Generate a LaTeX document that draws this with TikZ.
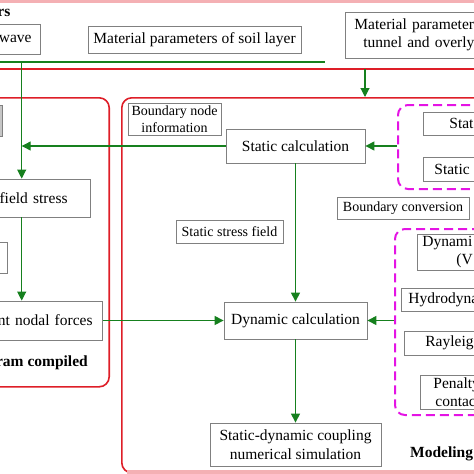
\documentclass[tikz,border=0pt]{standalone}
\usepackage{fontspec}
\setmainfont{Liberation Serif}
\usetikzlibrary{arrows.meta}
\definecolor{flowgreen}{RGB}{22,128,30}
\definecolor{framered}{RGB}{222,30,40}
\definecolor{modelpink}{RGB}{228,20,228}
\definecolor{edgegray}{RGB}{128,128,128}
\newcommand{\maintxt}{\fontsize{15.5pt}{18.5pt}\selectfont}
\newcommand{\notetxt}{\fontsize{14pt}{17pt}\selectfont}

\begin{document}
\begin{tikzpicture}[x=1pt,y=-1pt]
   \tikzstyle{box}=[draw=edgegray, line width=0.8pt, fill=white, inner ysep=1pt, font=\maintxt]
   \tikzstyle{note}=[box, font=\notetxt]
   \tikzstyle{cut}=[box, text width=150pt, align=left]
   \tikzstyle{frame}=[draw=framered, line width=1.6pt, rounded corners=10pt]
   \tikzstyle{model}=[draw=modelpink, line width=2pt, dash pattern=on 9pt off 5pt, rounded corners=10pt]
   \tikzstyle{flow}=[draw=flowgreen, line width=1.1pt, -{Triangle[length=9pt,width=9pt]}]
   \tikzstyle{title}=[font=\maintxt\bfseries, inner sep=0pt]

\useasboundingbox (0,0) rectangle (474,474);
\clip (0,0) rectangle (474,474);
\fill[framered!35] (0,0) rectangle (474,2.5);

\node[frame, anchor=north east, minimum width=150pt, minimum height=289pt] (progFrame) at (110,97) {};
\node[frame, anchor=north west, minimum width=400pt, minimum height=375pt] (simFrame) at (121,97) {};
\fill[framered!35] (127,469.5) rectangle (474,474);
\node[model, anchor=north west, minimum width=110pt, minimum height=84pt] (staticModel) at (397,104) {};
\node[model, anchor=north west, minimum width=110pt, minimum height=186pt] (dynModel) at (394,228) {};

\draw[framered, line width=1.6pt] (-5,69) -- (480,69);
\coordinate (redTap) at (365,69);
\draw[flowgreen, line width=2.8pt] (-5,62) -- (325,62);
\coordinate (busTap) at (21.7,62);

\node[title, anchor=east] (inputLabel) at (10.5,12.5) {rs};
\node[title, anchor=east] (progLabel) at (88,363) {ram compiled};
\node[title, anchor=west] (modelLabel) at (410,454) {Modeling};

\node[box, anchor=east, text width=60pt, align=right, inner xsep=9pt, minimum height=30pt] (waveBox) at (41,39) {wave};
\node[box, minimum width=213pt, minimum height=27pt] (soilPar) at (194.5,39.5) {Material parameters of soil layer};
\node[cut, anchor=west, inner xsep=9pt, minimum height=46pt] (tunnelPar) at (345,35) {Material parameter\\\hspace*{9pt}tunnel and overlyi};

\node[box, fill=gray!45, anchor=north east, minimum width=20pt, minimum height=31pt] (leftA) at (3,105) {};
\node[box, anchor=north east, minimum width=20pt, minimum height=31pt] (leftB) at (8,242) {};
\node[box, anchor=east, text width=70pt, align=right, inner xsep=23pt, minimum height=38pt] (fieldStress) at (91,198) {field stress};
\node[box, anchor=east, text width=100pt, align=right, inner xsep=10pt, minimum height=39pt] (nodalForces) at (103,320.5) {nt nodal forces};

\node[note, align=center, inner xsep=3pt, minimum width=93pt, minimum height=32pt] (bndInfo) at (174.5,119) {Boundary node\\information};
\node[box, minimum width=139pt, minimum height=34pt] (staticCalc) at (295.5,146) {Static calculation};
\node[note, minimum width=107pt, minimum height=23pt] (stressField) at (229.5,231.5) {Static stress field};
\node[box, minimum width=143pt, minimum height=37pt] (dynCalc) at (295.5,320.5) {Dynamic calculation};
\node[box, align=center, minimum width=171pt, minimum height=43pt] (coupling) at (295.5,444.5) {Static-dynamic coupling\\numerical simulation};
\node[note, minimum width=132pt, minimum height=22pt] (bndConv) at (403,208) {Boundary conversion};

\node[cut, anchor=west, inner xsep=26pt, minimum height=23pt] (staticA) at (423,123.5) {Stat};
\node[cut, anchor=west, inner xsep=11pt, minimum height=24pt] (staticB) at (423,169) {Static};
\node[cut, anchor=west, inner xsep=5pt, minimum height=36pt] (dynA) at (417,252) {Dynami\\\hspace*{34pt}(V};
\node[cut, anchor=west, inner xsep=7pt, minimum height=23pt] (hydro) at (401,299.5) {Hydrodyna};
\node[cut, anchor=west, inner xsep=21pt, minimum height=24pt] (rayleigh) at (404,343) {Rayleig};
\node[cut, anchor=west, inner xsep=13pt, minimum height=34pt] (penalty) at (420,392) {Penalty\\\hspace*{2pt}contac};

\draw[flow] (redTap) -- (redTap |- simFrame.north);
\draw[flow] (busTap) -- (busTap |- fieldStress.north);
\draw[flow] (staticCalc.west) -- (busTap |- staticCalc.west);
\draw[flow] (busTap |- fieldStress.south) -- (busTap |- nodalForces.north);
\draw[flow] (nodalForces.east) -- (dynCalc.west);
\draw[flow] (staticCalc.south) -- (dynCalc.north);
\draw[flow] (dynCalc.south) -- (coupling.north);
\draw[flow] (staticModel.west |- staticCalc.east) -- (staticCalc.east);
\draw[flow] (dynModel.west |- dynCalc.east) -- (dynCalc.east);

\end{tikzpicture}
\end{document}
